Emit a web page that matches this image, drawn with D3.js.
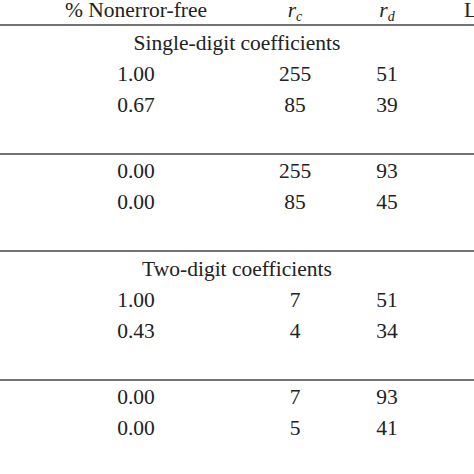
<!DOCTYPE html>
<html><head><meta charset="utf-8">
<script src="https://cdn.jsdelivr.net/npm/d3@7"></script>
<style>body{margin:0;background:#fff}</style>
</head><body>
<script>
// table contents
var headers = ["% Nonerror-free", "r_c", "r_d", "L"];
var sections = ["Single-digit coefficients", "Two-digit coefficients"];
var nonerror = [["1.00", "0.67"], ["0.00", "0.00"], ["1.00", "0.43"], ["0.00", "0.00"]];
var rc = [["255", "85"], ["255", "85"], ["7", "4"], ["7", "5"]];
var rd = [["51", "39"], ["93", "45"], ["51", "34"], ["93", "41"]];

var W = 474, H = 474;
var svg = d3.select("body").append("svg").attr("width", W).attr("height", H);
var font = "'Liberation Serif', serif";
var colX = d3.scaleOrdinal().domain([0, 1, 2, 3]).range([136, 295, 387, 475]);
var ruleY = [25, 154, 251, 380];
var blockY = [81, 178, 307, 404];
var sectionY = [50, 276];

function txt(x, y, s, anchor) {
    return svg.append("text").attr("x", x).attr("y", y)
        .attr("text-anchor", anchor || "middle")
        .attr("font-family", font).attr("font-size", 21.5).attr("fill", "#222").text(s);
}

// header
headers.forEach(function (h, i) {
    if (h.indexOf("_") > 0) {
        var t = txt(colX(i), 17, "");
        t.append("tspan").attr("font-style", "italic").text(h.split("_")[0]);
        t.append("tspan").attr("font-style", "italic").attr("font-size", 14).attr("dy", 4).text(h.split("_")[1]);
    } else if (i === 3) {
        txt(464, 17, h, "start");
    } else {
        txt(colX(i), 17, h);
    }
});

svg.selectAll("line.rule").data(ruleY).enter().append("line")
    .attr("x1", 0).attr("x2", W).attr("y1", function (d) { return d; }).attr("y2", function (d) { return d; })
    .attr("stroke", "#444").attr("stroke-width", 1.6);

sections.forEach(function (s, i) { txt(237, sectionY[i], s); });

blockY.forEach(function (y0, b) {
    for (var r = 0; r < 2; r++) {
        var y = y0 + r * 30.5;
        txt(colX(0), y, nonerror[b][r]);
        txt(colX(1), y, rc[b][r]);
        txt(colX(2), y, rd[b][r]);
    }
});
</script>
</body></html>
